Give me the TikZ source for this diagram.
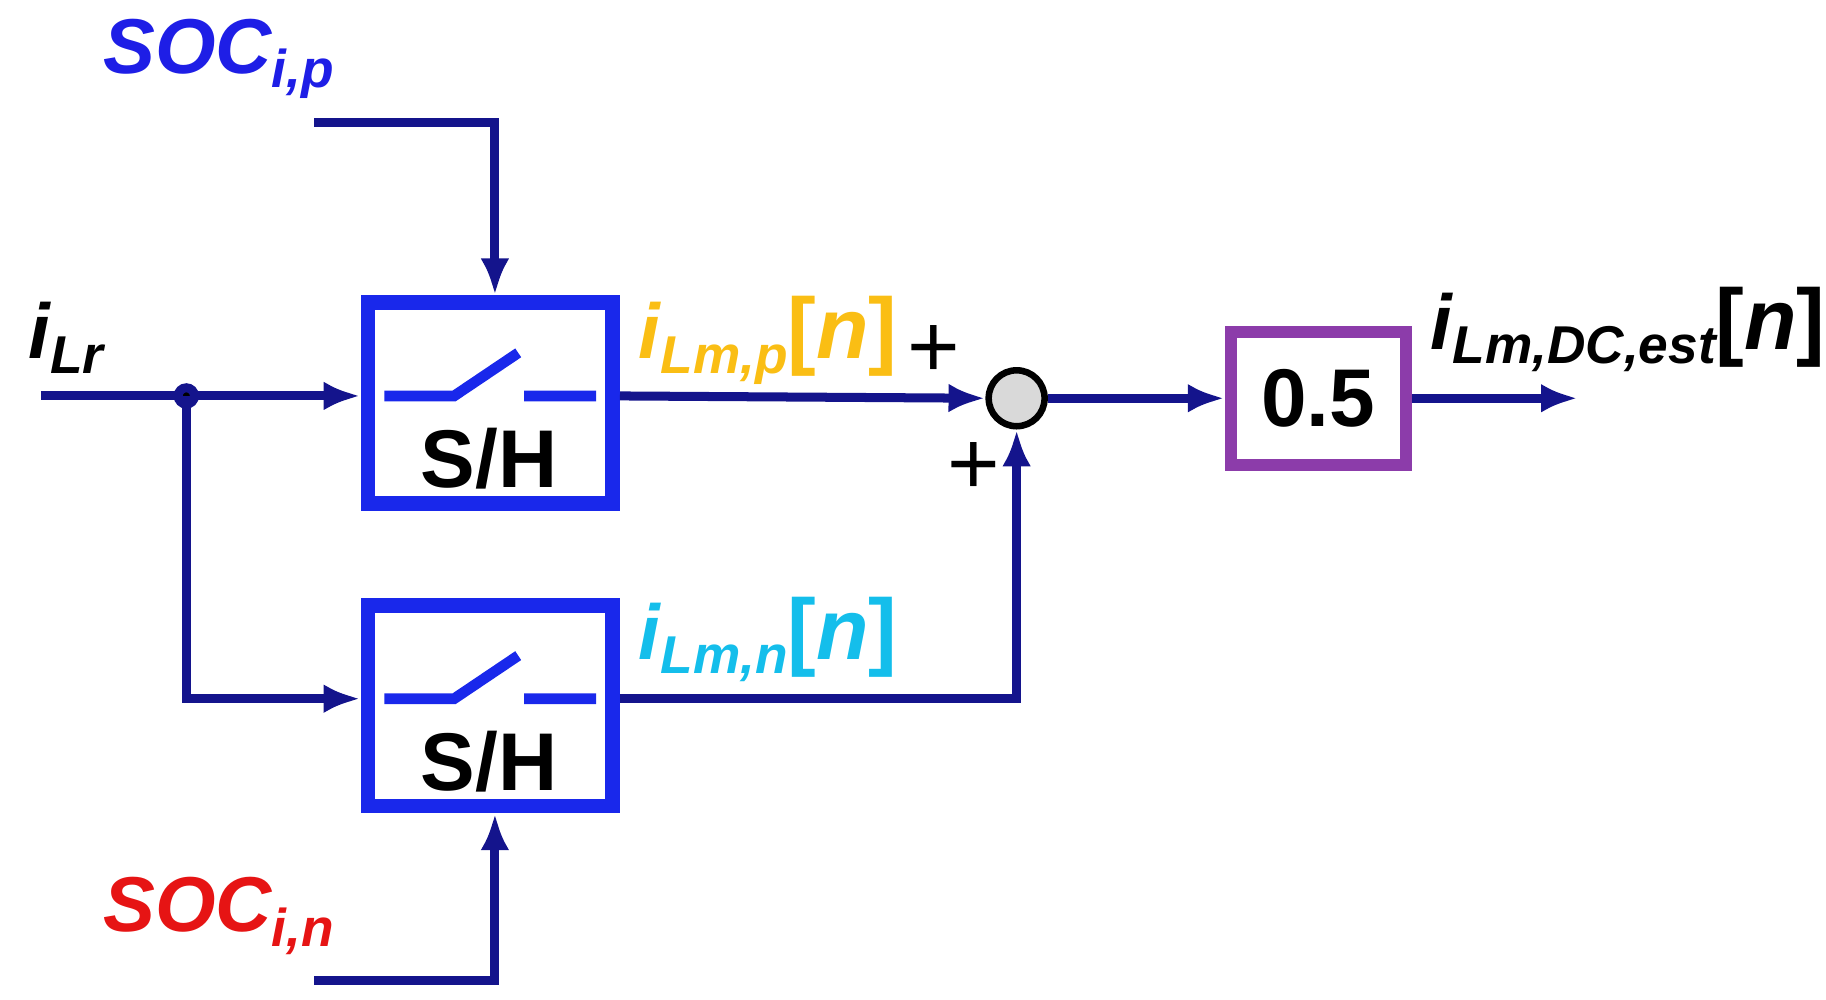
\documentclass[tikz,border=0pt]{standalone}
\usepackage{fontspec}
\setmainfont{Liberation Sans}
\usetikzlibrary{arrows.meta}
\definecolor{wire}{RGB}{20,20,140}
\definecolor{shblue}{RGB}{25,40,235}
\definecolor{socblue}{RGB}{30,30,230}
\definecolor{socred}{RGB}{230,20,20}
\definecolor{lmp}{RGB}{250,190,20}
\definecolor{lmn}{RGB}{20,190,235}
\definecolor{gainv}{RGB}{140,60,170}
\newcommand{\sub}[1]{\raisebox{-0.35ex}{\fontsize{13}{13}\selectfont #1}}
\newcommand{\bign}{{\fontsize{21}{21}\selectfont\textup{[}n\textup{]}}}
\begin{document}
\begin{tikzpicture}[x=0.01cm,y=-0.01cm,
  wire/.style={draw=wire,line width=2.2pt},
  arr/.style={wire,-{Latex[length=9pt,width=7pt]}},
  sh/.style={draw=shblue,line width=3.6pt,minimum width=2.1cm,minimum height=1.72cm,inner sep=0pt},
  sw/.style={draw=shblue,line width=2.6pt},
  lbl/.style={font=\bfseries\itshape\fontsize{19}{19}\selectfont,inner sep=0pt,anchor=base west}]
\useasboundingbox (0,0) rectangle (1568,858);
% blocks
\node[sh] (sh1) at (421,346) {};
\node[sh] (sh2) at (421,606) {};
\node[font=\bfseries\fontsize{20}{20}\selectfont] (t1) at (420,394) {S/H};
\node[font=\bfseries\fontsize{20}{20}\selectfont] (t2) at (420,654) {S/H};
\draw[sw] (330,340) -- (390,340) -- (445,303) (450,340) -- (512,340);
\draw[sw] (330,600) -- (390,600) -- (445,563) (450,600) -- (512,600);
\node[circle,draw=black,line width=1.6pt,fill=black!15,minimum size=0.48cm,inner sep=0pt] (sum) at (873,342) {};
\node[draw=gainv,line width=3pt,minimum width=1.5cm,minimum height=1.14cm,font=\bfseries\fontsize{20}{20}\selectfont] (g) at (1132,342) {0.5};
% labels
\node[lbl,text=socblue] (socp) at (88,63) {SOC\sub{i,p}};
\node[lbl,text=socred] (socn) at (88,800) {SOC\sub{i,n}};
\node[lbl] (ilr) at (24,308) {i\sub{Lr}};
\node[lbl,text=lmp] (ilmp) at (548,308) {i\sub{Lm,p}\bign};
\node[lbl,text=lmn] (ilmn) at (548,566) {i\sub{Lm,n}\bign};
\node[lbl] (iout) at (1228,300) {i\sub{Lm,DC,est}\bign};
\node[font=\fontsize{22}{22}\selectfont] (pp) at (802,302) {+};
\node[font=\fontsize{22}{22}\selectfont] (pn) at (836,402) {+};
% coordinates
\coordinate (in) at (35,340);
\coordinate (dot) at (160,340);
\coordinate (out) at (1355,342);
\coordinate (sp) at (270,105);
\coordinate (sn) at (270,842);
% wires
\draw[arr] (in) -- (sh1.west|-dot);
\fill[wire] (dot) circle (7);
\draw[arr] (dot) |- (sh2.west|-0,600);
\draw[arr] (sp) -| (sh1.north-|425,0);
\draw[arr] (sn) -| (sh2.south-|425,0);
\draw[arr] (sh1.east|-0,340) -- (sum.west);
\draw[arr] (sh2.east|-0,600) -| (sum.south);
\draw[arr] (sum.east) -- (g.west);
\draw[arr] (g.east) -- (out);
\end{tikzpicture}
\end{document}
